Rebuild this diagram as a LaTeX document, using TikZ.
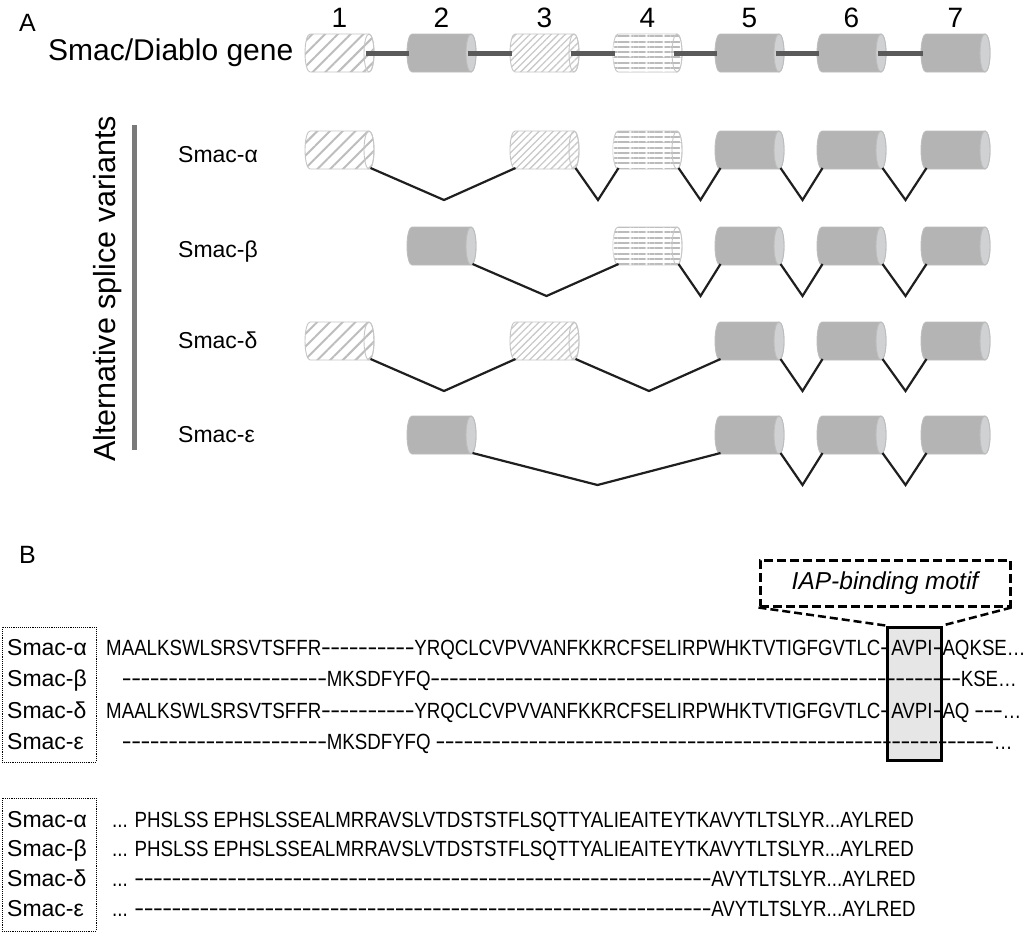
\documentclass[tikz,border=0pt]{standalone}
\usepackage{fontspec}
\setmainfont{Liberation Sans}
\newfontfamily\seqfont{Liberation Sans}[FakeStretch=0.85]
\usepackage{graphicx}
\usetikzlibrary{positioning, patterns.meta, calc}
\definecolor{ExonBody}{HTML}{B4B4B4}
\definecolor{ExonEnd}{HTML}{CFD1D3}
\definecolor{ExonEdge}{HTML}{BDBDBD}
\definecolor{HatchEdge}{HTML}{C6C6C6}
\definecolor{HatchA}{HTML}{BDBDBD}
\definecolor{HatchB}{HTML}{CACACA}
\definecolor{GridC}{HTML}{BBBBBB}
\definecolor{Backbone}{HTML}{5A5A5A}
\definecolor{BarGray}{HTML}{7A7A7A}
\definecolor{MotifFill}{HTML}{E6E6E6}
\newcommand{\px}[1]{\fontsize{#1}{#1}\selectfont}
\newcommand{\gp}{\makebox[9.3pt][c]{\scalebox{0.7}[1.2]{–}}}
\newcommand{\gaps}[1]{\foreach \k in {1,...,#1}{\gp}}
\tikzset{
  exon/.style 2 args={rectangle, minimum width=72pt, minimum height=40pt,
    inner sep=0pt, outer sep=0pt, fill=white,
    path picture={
      \coordinate (ex) at (path picture bounding box.center);
      \path[line width=0.9pt, #1] ($(ex)+(29.5,-19)$) -- ($(ex)+(-29.5,-19)$)
        arc[start angle=90, end angle=270, x radius=5pt, y radius=19pt]
        -- ($(ex)+(29.5,19)$)
        arc[start angle=-90, end angle=90, x radius=5pt, y radius=19pt] -- cycle;
      \path[line width=0.9pt, #2] ($(ex)+(29.5,0)$) ellipse[x radius=5pt, y radius=19pt];
    }},
  plain/.style={exon={fill=ExonBody, draw=ExonEdge}{fill=ExonEnd, draw=ExonEdge}},
  wide/.style={exon={draw=HatchEdge, pattern color=HatchA,
               pattern={Lines[angle=45, distance=9pt, line width=2pt]}}{draw=HatchEdge}},
  fine/.style={exon={draw=HatchEdge, pattern color=HatchB,
               pattern={Lines[angle=45, distance=5pt, line width=1.3pt]}}{draw=HatchEdge}},
  stripe/.style={exon={draw=HatchEdge, pattern color=GridC,
                 pattern={Lines[angle=0, distance=5.3pt, line width=2pt]},
                 postaction={pattern color=white,
                   pattern={Lines[angle=90, distance=17pt, line width=1.5pt]}}}{draw=HatchEdge}},
  link/.style={to path={($(\tikztostart.center)+(26,0)$)
               -- ($(\tikztotarget.center)+(-33,0)$)}},
  intron/.style={to path={($(\tikztostart.center)+(31,18)$)
               -- ($(\tikztostart.center)!.5!(\tikztotarget.center)+(2,50)$)
               -- ($(\tikztotarget.center)+(-29,18)$)}},
  backbone/.style={draw=Backbone, line width=5pt},
  splice/.style={draw=black!88, line width=2.2pt},
  bar/.style={draw=BarGray, line width=5pt},
  num/.style={font=\px{28}, anchor=base, inner sep=0pt},
  genelabel/.style={font=\px{30}, anchor=base west, inner sep=0pt},
  sidelabel/.style={font=\px{30.5}, anchor=base, rotate=90, inner sep=0pt},
  panel/.style={font=\px{25}, anchor=base west, inner sep=0pt},
  vname/.style={font=\px{23}, anchor=base west, inner sep=0pt},
  seq/.style={font=\seqfont\px{22}, anchor=base west, inner sep=0pt},
  namebox/.style={draw, line width=0.9pt, densely dotted, inner sep=0pt},
  motif/.style={draw, line width=3pt, dash pattern=on 9pt off 4pt,
                minimum width=250pt, minimum height=46pt, font=\px{24.5}\itshape},
  tether/.style={draw, line width=2.5pt, dash pattern=on 8pt off 4pt},
  avpibox/.style={draw=black, line width=3pt, fill=MotifFill, inner sep=0pt,
                  minimum width=54pt, minimum height=133pt},
}

\begin{document}
\begin{tikzpicture}[x=1pt, y=-1pt]
  \useasboundingbox (0,0) rectangle (1024,932);

  % ---- A: the gene ----
  \node[panel] (pa) at (19,31) {A};
  \node[genelabel] (gname) at (48,60) {Smac/Diablo gene};
  \node[wide]   (g1) at (339.5,53) {};
  \node[plain]  (g2) at (441.5,53) {};
  \node[fine]   (g3) at (544.5,53) {};
  \node[stripe] (g4) at (647.5,53) {};
  \node[plain]  (g5) at (749.5,53) {};
  \node[plain]  (g6) at (851.5,53) {};
  \node[plain]  (g7) at (955.5,53) {};
  \draw[backbone] (g1) edge[link] (g2) (g2) edge[link] (g3) (g3) edge[link] (g4)
                  (g4) edge[link] (g5) (g5) edge[link] (g6) (g6) edge[link] (g7);
  \node[num] (n1) at (339.5,27) {1};
  \node[num] (n2) at (441.5,27) {2};
  \node[num] (n3) at (544.5,27) {3};
  \node[num] (n4) at (647.5,27) {4};
  \node[num] (n5) at (749.5,27) {5};
  \node[num] (n6) at (851.5,27) {6};
  \node[num] (n7) at (955.5,27) {7};

  % ---- splice variants ----
  \node[sidelabel] (alt) at (115,289) {Alternative splice variants};
  \draw[bar] (134,125) -- (134,450);

  \node[vname] (va) at (178,162) {Smac-α};
  \node[wide]   (a1) at (339.5,150) {};
  \node[fine]   (a3) at (544.5,150) {};
  \node[stripe] (a4) at (647.5,150) {};
  \node[plain]  (a5) at (749.5,150) {};
  \node[plain]  (a6) at (851.5,150) {};
  \node[plain]  (a7) at (955.5,150) {};
  \draw[splice] (a1) edge[intron] (a3) (a3) edge[intron] (a4) (a4) edge[intron] (a5)
                (a5) edge[intron] (a6) (a6) edge[intron] (a7);

  \node[vname] (vb) at (178,257) {Smac-β};
  \node[plain]  (b2) at (441.5,246) {};
  \node[stripe] (b4) at (647.5,246) {};
  \node[plain]  (b5) at (749.5,246) {};
  \node[plain]  (b6) at (851.5,246) {};
  \node[plain]  (b7) at (955.5,246) {};
  \draw[splice] (b2) edge[intron] (b4) (b4) edge[intron] (b5)
                (b5) edge[intron] (b6) (b6) edge[intron] (b7);

  \node[vname] (vd) at (178,348) {Smac-δ};
  \node[wide]   (d1) at (339.5,341) {};
  \node[fine]   (d3) at (544.5,341) {};
  \node[plain]  (d5) at (749.5,341) {};
  \node[plain]  (d6) at (851.5,341) {};
  \node[plain]  (d7) at (955.5,341) {};
  \draw[splice] (d1) edge[intron] (d3) (d3) edge[intron] (d5)
                (d5) edge[intron] (d6) (d6) edge[intron] (d7);

  \node[vname] (ve) at (178,442) {Smac-ε};
  \node[plain]  (e2) at (441.5,435) {};
  \node[plain]  (e5) at (749.5,435) {};
  \node[plain]  (e6) at (851.5,435) {};
  \node[plain]  (e7) at (955.5,435) {};
  \draw[splice] (e2) edge[intron] (e5) (e5) edge[intron] (e6) (e6) edge[intron] (e7);

  % ---- B: protein alignment ----
  \node[panel] (pb) at (19,563) {B};
  \node[motif] (iap) at (885,583) {IAP-binding motif};
  \node[avpibox] (avpi) at (914,693.5) {};
  \draw[tether] (iap.south west) -- (avpi.north west);
  \draw[tether] (iap.south east) -- (avpi.north east);

  \node[namebox, minimum width=94pt, minimum height=135pt] (box1) at (49,694.5) {};
  \node[vname] (la) at (7,655) {Smac-α};
  \node[vname] (lb) at (7,686) {Smac-β};
  \node[vname] (ld) at (7,718) {Smac-δ};
  \node[vname] (le) at (7,749) {Smac-ε};

  \node[seq] (sa1) at (106,655) {MAALKSWLSRSVTSFFR\gaps{10}YRQCLCVPVVANFKKRCFSELIRPWHKTVTIGFGVTLC\gp};
  \node[seq, anchor=base] (sa2) at (912,655) {AVPI};
  \node[seq] (sa3) at (933,655) {\gp AQKSE…};
  \node[seq] (sb1) at (122,686) {\gaps{22}MKSDFYFQ\gaps{57}KSE…};
  \node[seq] (sd1) at (106,718) {MAALKSWLSRSVTSFFR\gaps{10}YRQCLCVPVVANFKKRCFSELIRPWHKTVTIGFGVTLC\gp};
  \node[seq, anchor=base] (sd2) at (912,718) {AVPI};
  \node[seq] (sd3) at (933,718) {\gp AQ \gaps{3}…};
  \node[seq] (se1) at (122,749) {\gaps{22}MKSDFYFQ \gaps{60}…};

  \node[namebox, minimum width=94pt, minimum height=133pt] (box2) at (49,864.5) {};
  \node[vname] (ma) at (7,827) {Smac-α};
  \node[vname] (mb) at (7,856) {Smac-β};
  \node[vname] (md) at (7,886) {Smac-δ};
  \node[vname] (me) at (7,916) {Smac-ε};

  \node[seq] (ta) at (112,827) {... PHSLSS EPHSLSSEALMRRAVSLVTDSTSTFLSQTTYALIEAITEYTKAVYTLTSLYR...AYLRED};
  \node[seq] (tb) at (112,856) {... PHSLSS EPHSLSSEALMRRAVSLVTDSTSTFLSQTTYALIEAITEYTKAVYTLTSLYR...AYLRED};
  \node[seq] (td) at (112,886) {... \gaps{62}AVYTLTSLYR...AYLRED};
  \node[seq] (te) at (112,916) {... \gaps{62}AVYTLTSLYR...AYLRED};
\end{tikzpicture}
\end{document}
